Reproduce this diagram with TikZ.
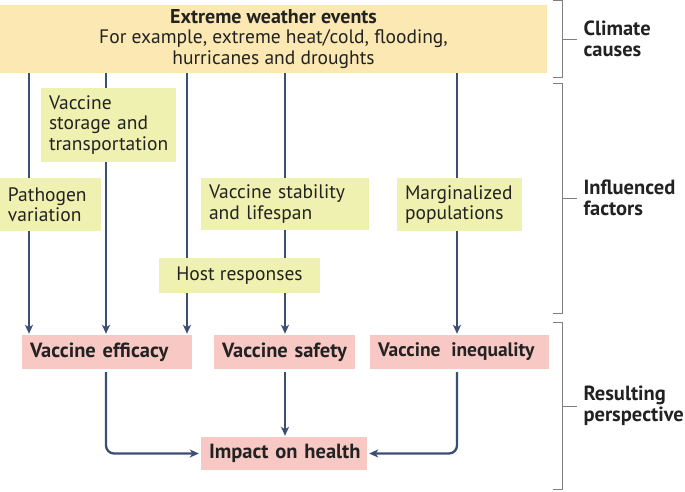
\documentclass[tikz,border=0pt]{standalone}
\usepackage{fontspec}
\setmainfont{PT Sans}
\usetikzlibrary{arrows.meta}

\definecolor{warmbox}{HTML}{FCE8B2}
\definecolor{factorbox}{HTML}{EFF1B0}
\definecolor{resultbox}{HTML}{F8C9C4}
\definecolor{flowline}{HTML}{3B4F73}
\definecolor{bracegray}{HTML}{7F7F7F}
\definecolor{inkblack}{HTML}{222222}

\tikzset{
    txt/.style={font=\fontsize{19.5}{20.5}\selectfont, text=inkblack},
    factor/.style={txt, fill=factorbox, inner xsep=8pt, inner ysep=0pt, align=left},
    result/.style={txt, fill=resultbox, inner xsep=8pt, inner ysep=0pt, font=\fontsize{20.5}{21}\selectfont\bfseries, align=left},
    flow/.style={draw=flowline, line width=2.3pt, -{Stealth[length=9pt, width=8pt, inset=2.5pt]}},
    bracket/.style={draw=bracegray, line width=0.9pt},
    side/.style={anchor=west, align=left, font=\fontsize{20.5}{21.5}\selectfont\bfseries, text=inkblack}
}

\begin{document}
\begin{tikzpicture}[x=1pt, y=-1pt]
    \useasboundingbox (0,0) rectangle (685,491);

    % Climate causes
    \node[txt, fill=warmbox, minimum width=547pt, minimum height=68pt, align=center, inner sep=0pt]
        (weather) at (273.5,39) {{\fontsize{20}{20.5}\selectfont\bfseries Extreme weather events}\\For example, extreme heat/cold, flooding,\\hurricanes and droughts};

    % Resulting perspective
    \node[result, minimum width=170pt, minimum height=34pt, text width=154pt] (efficacy) at (107,352) {\mbox{Vaccine efficacy}};
    \node[result, minimum width=141pt, minimum height=34pt, text width=125pt] (safety) at (284.5,352) {\mbox{Vaccine safety}};
    \node[result, minimum width=179pt, minimum height=34pt, text width=163pt] (inequality) at (459.5,352) {\mbox{\fontsize{19.5}{21}\selectfont Vaccine\hspace{0.2em} inequality}};
    \node[result, minimum width=166pt, minimum height=33pt, text width=150pt] (impact) at (284,453.5) {\mbox{Impact on health}};

    % x positions of the lines
    \coordinate (c1) at (29,0);
    \coordinate (c2) at (106,0);
    \coordinate (c3) at (187,0);
    \coordinate (c4) at (285,0);
    \coordinate (c5) at (457,0);

    \draw[flow, shorten >=1pt] (weather.south -| c1) -- (efficacy.north -| c1);
    \draw[flow, shorten >=1pt] (weather.south -| c2) -- (efficacy.north -| c2);
    \draw[flow, shorten >=1pt] (weather.south -| c3) -- (efficacy.north -| c3);
    \draw[flow, shorten >=1pt] (weather.south -| c4) -- (safety.north -| c4);
    \draw[flow, shorten >=1pt] (weather.south -| c5) -- (inequality.north -| c5);

    \draw[flow, rounded corners=8pt, shorten <=3pt, shorten >=2pt] (efficacy.south -| c2) |- (impact.west);
    \draw[flow, shorten <=3pt, shorten >=1pt] (safety.south -| c4) -- (impact.north -| c4);
    \draw[flow, rounded corners=8pt, shorten <=3pt, shorten >=2pt] (inequality.south -| c5) |- (impact.east);

    % Influenced factors
    \node[factor, minimum width=101pt, minimum height=53pt, text width=85pt] (pathogen) at (50.5,204.5) {Pathogen\\variation};
    \node[factor, minimum width=135pt, minimum height=74pt, text width=119pt] (storage) at (108.5,125) {Vaccine\\storage and\\transportation};
    \node[factor, minimum width=168pt, minimum height=52pt, text width=152pt] (stability) at (285,204) {Vaccine stability\\and lifespan};
    \node[factor, minimum width=125pt, minimum height=53pt, text width=109pt] (marginal) at (459.5,204.5) {Marginalized\\populations};
    \node[factor, minimum width=161pt, minimum height=35pt, align=center] (host) at (239.5,275.5) {Host responses};

    % Brackets
    \draw[bracket] (553,0.5) -- (562,0.5) -- (562,77) -- (553,77) (562,39) -- (577,39);
    \draw[bracket] (553,83) -- (562,83) -- (562,313) -- (553,313) (562,198) -- (577,198);
    \draw[bracket] (553,322) -- (562,322) -- (562,489.5) -- (553,489.5) (562,406) -- (577,406);

    \node[side] (causes) at (580,39) {Climate\\causes};
    \node[side] (factors) at (580,198) {Influenced\\factors};
    \node[side] (outcome) at (580,406) {Resulting\\perspective};
\end{tikzpicture}
\end{document}
